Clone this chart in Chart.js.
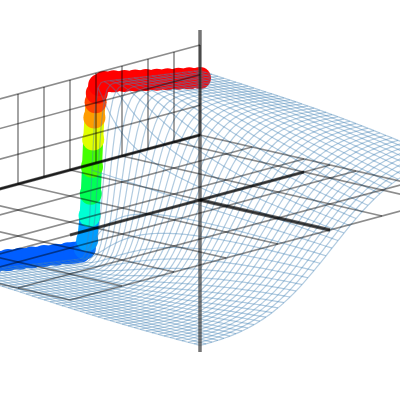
<!DOCTYPE html>
<html>
<head>
<meta charset="utf-8">
<script src="https://cdn.jsdelivr.net/npm/chart.js@4"></script>
<style>
  html, body { margin: 0; padding: 0; background: #fff; }
  #wrap { width: 400px; height: 400px; }
</style>
</head>
<body>
<div id="wrap"><canvas id="chart"></canvas></div>
<script>
// parameter ticks of the surface mesh and of the box grid
const meshTicks = Array.from({ length: 41 }, (_, i) => -1 + i * 0.05);
const lineSamples = Array.from({ length: 81 }, (_, i) => -1 + i * 0.025);
const wallU = [-2, -1.8, -1.6, -1.4, -1.2, -1, -0.8, -0.6, -0.4, -0.2, 0, 0.2, 0.4, 0.6, 0.8, 1];
const wallZ = [0, 0.33, 0.67, 1];
const floorU = [-2, -1.6, -1.2, -0.8, -0.4, 0, 0.4, 0.8, 1];
const floorV = [-1, -0.6, -0.2, 0, 0.2, 0.6, 1];
// samples along the thick curve (back edge of the surface)
const curveU = [-0.7, -0.6, -0.5, -0.4, -0.3, -0.2, -0.1, -0.05, 0, 0.04, 0.06, 0.08, 0.09, 0.1, 0.11,
  0.12, 0.13, 0.14, 0.16, 0.2, 0.28, 0.37, 0.46, 0.55, 0.64, 0.73, 0.82, 0.91, 1];

const height = (u, v) => {
  const t = (v + 1) / 2;
  const w = 0.015 + 0.3 * t;
  const c = 0.1;
  return 1 / (1 + Math.exp(-(u - c) / w));
};
// surface projection and box projection
const proj = (u, v, z) => ({ x: 200 + 120 * u + 120 * v, y: 298 - 13.5 * u + 39 * v - 175 * z });
const boxProj = (u, v, z) => ({ x: 200 + 130 * u + 130 * v, y: 200 - 35 * u + 30 * v - 90 * z });

const line = (data, color, width) => ({
  data, showLine: true, borderColor: color, borderWidth: width, pointRadius: 0, fill: false
});

const datasets = [];
const gridColor = 'rgba(0,0,0,0.45)';
const thick = 'rgba(0,0,0,0.65)';

// back wall
wallU.forEach((u) => datasets.push(line([boxProj(u, -1, 0), boxProj(u, -1, 1)], gridColor, 1.6)));
wallZ.forEach((z) => datasets.push(line([boxProj(-2, -1, z), boxProj(1, -1, z)], gridColor, 1.6)));
// floor
floorV.forEach((v) => datasets.push(line([boxProj(-2, v, 0), boxProj(1, v, 0)], gridColor, 1.6)));
floorU.forEach((u) => datasets.push(line([boxProj(u, -1, 0), boxProj(u, 1, 0)], gridColor, 1.6)));
datasets.push(line([boxProj(-2, -1, 0), boxProj(1, -1, 0)], thick, 3));
datasets.push(line([boxProj(0, 0, 0), boxProj(0, 1, 0)], thick, 3.5));
datasets.push(line([boxProj(-1, 0, 0), boxProj(0.8, 0, 0)], thick, 3));
datasets.push(line([{ x: 200, y: 30 }, { x: 200, y: 352 }], 'rgba(70,70,70,0.75)', 3.5));

// surface mesh
const meshColor = 'rgba(70,130,180,0.42)';
meshTicks.forEach((u) => datasets.push(line(lineSamples.map((v) => proj(u, v, height(u, v))), meshColor, 1.2)));
meshTicks.forEach((v) => datasets.push(line(lineSamples.map((u) => proj(u, v, height(u, v))), meshColor, 1.2)));

// thick curve
const jet = (z) => `hsl(${Math.round(228 * (1 - Math.min(1, z * 1.05)))}, 100%, 50%)`;
const curveZ = curveU.map((u) => 0.04 + 0.96 * height(u, -1) - 0.05 * Math.max(0, u - 0.15));
const curvePts = curveU.map((u, i) => proj(u, -1, curveZ[i]));
datasets.push({
  data: curvePts,
  showLine: true,
  borderWidth: 20,
  borderCapStyle: 'round',
  borderJoinStyle: 'round',
  segment: { borderColor: (ctx) => jet(curveZ[ctx.p0DataIndex]) },
  pointRadius: 11,
  pointBorderWidth: 0,
  pointBackgroundColor: curveZ.map(jet),
  fill: false
});

new Chart(document.getElementById('chart'), {
  type: 'scatter',
  data: { datasets },
  options: {
    responsive: true,
    maintainAspectRatio: false,
    animation: false,
    layout: { padding: 0, autoPadding: false },
    plugins: { legend: { display: false }, tooltip: { enabled: false } },
    scales: {
      x: { type: 'linear', min: 0, max: 400, display: false },
      y: { type: 'linear', min: 0, max: 400, reverse: true, display: false }
    }
  }
});
</script>
</body>
</html>
